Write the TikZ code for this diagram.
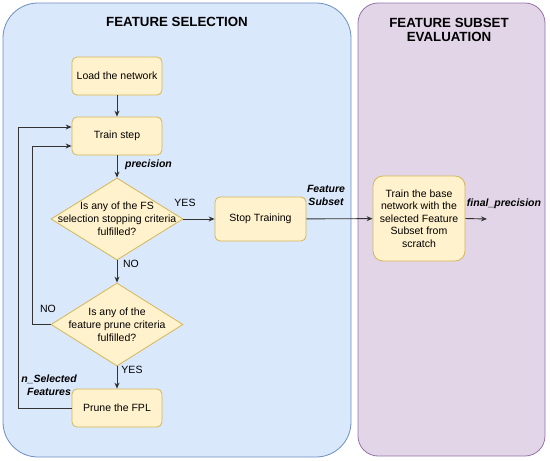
\documentclass[tikz,border=0pt]{standalone}
\usepackage{fontspec}
\setmainfont{Liberation Sans}
\usetikzlibrary{shapes.geometric,arrows.meta}
\definecolor{bluefill}{HTML}{DAE8FC}
\definecolor{blueline}{HTML}{6C8EBF}
\definecolor{purfill}{HTML}{E1D5E7}
\definecolor{purline}{HTML}{9673A6}
\definecolor{yelfill}{HTML}{FFF2CC}
\definecolor{yelline}{HTML}{D6B656}
\definecolor{conn}{HTML}{333333}
\begin{document}
\begin{tikzpicture}[x=1pt,y=-1pt,
  txt/.style={font=\fontsize{10.5}{13}\selectfont, inner sep=0pt, align=center},
  lbl/.style={font=\fontsize{10.5}{13}\selectfont\bfseries\itshape, inner sep=0pt, align=center},
  ttl/.style={font=\fontsize{13.3}{14}\selectfont\bfseries, inner sep=0pt, align=center},
  box/.style={draw=yelline, fill=yelfill, rounded corners=5pt, line width=0.8pt,
    minimum width=90pt, minimum height=38pt, inner sep=0pt, align=center,
    font=\fontsize{10.5}{13}\selectfont},
  dia/.style={draw=yelline, fill=yelfill, diamond, line width=0.8pt, inner sep=0pt,
    minimum width=132pt, minimum height=82pt},
  container/.style={rounded corners=#1, line width=0.8pt, inner sep=0pt},
  arr/.style={draw=conn, line width=0.9pt, -{Stealth[length=6pt,width=5pt]}},
]
\useasboundingbox (0,0) rectangle (550,461);
% containers
\node[container=35pt, draw=blueline, fill=bluefill, minimum width=348pt, minimum height=454pt] (fs) at (177,230) {};
\node[container=20pt, draw=purline, fill=purfill, minimum width=187pt, minimum height=453pt] (fse) at (451.5,229.5) {};
\node[ttl] (fsT) at (177,22) {FEATURE SELECTION};
\node[ttl] (fseT) at (449,30) {FEATURE SUBSET\\EVALUATION};
% nodes
\node[box] (load) at (117,76) {Load the network};
\node[box] (train) at (117,136) {Train step};
\node[dia, label={[txt]center:{Is any of the FS\\selection stopping criteria\\fulfilled?}}] (d1) at (117,219) {};
\node[box, minimum width=91pt, minimum height=44pt] (stop) at (260.5,219) {Stop Training};
\node[dia, minimum height=83pt, label={[txt]center:{Is any of the\\feature prune criteria\\fulfilled?}}] (d2) at (117,324.5) {};
\node[box] (prune) at (117,408) {Prune the FPL};
\node[box, rounded corners=10pt, minimum width=92pt, minimum height=85pt,
  font=\fontsize{10.5}{12.5}\selectfont] (base) at (419,218.5) {Train the base\\network with the\\selected Feature\\Subset from\\scratch};
\coordinate (out) at (487,219);
% connectors
\draw[arr] (load) -- (train);
\draw[arr] (train) -- (d1);
\draw[arr] (d1) -- (stop);
\draw[arr] (d1) -- (d2);
\draw[arr] (d2) -- (prune);
\draw[arr] (d2.west) -- ++(-18,0) |- ([yshift=-10pt]train.west);
\draw[arr] (prune.west) -- ++(-53,0) |- ([yshift=9pt]train.west);
\draw[arr] (stop) -- (base);
\draw[arr] (base.east) -- (out);
% labels
\node[lbl] (lprec) at (148.5,165) {precision};
\node[txt] (lyes1) at (185,203) {YES};
\node[txt] (lno1) at (131,264) {NO};
\node[txt] (lno2) at (48,309) {NO};
\node[txt] (lyes2) at (132,370) {YES};
\node[lbl] (lnsel) at (49,385.5) {n\_Selected\\Features};
\node[lbl] (lfs) at (326,195.5) {Feature\\Subset};
\node[lbl] (lfin) at (504,204) {final\_precision};
\end{tikzpicture}
\end{document}
